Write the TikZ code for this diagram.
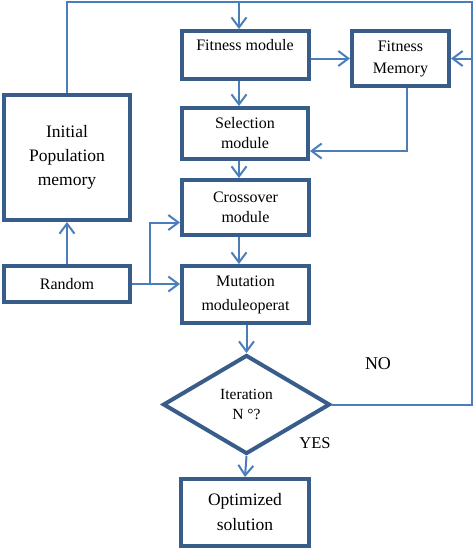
\documentclass[tikz,border=0pt]{standalone}
\usepackage{fontspec}
\setmainfont{Liberation Serif}
\usetikzlibrary{arrows.meta, shapes.geometric}

\definecolor{boxblue}{RGB}{56,93,138}
\definecolor{lineblue}{RGB}{74,126,187}

\begin{document}
\begin{tikzpicture}[x=1pt, y=-1pt,
    block/.style={draw=boxblue, line width=4pt, align=center, inner sep=2pt, font=\fontsize{16}{20}\selectfont},
    link/.style={draw=lineblue, line width=2pt},
    arr/.style={link, -{Straight Barb[length=10pt, width=15pt]}}]
    \useasboundingbox (0,0) rectangle (474,550);
    \coordinate (col) at (239,0);  % main arrow column
    \coordinate (fork) at (150,0);
    \coordinate (tr) at (472,2);   % top right corner of the loop
    \node[block, minimum width=127pt, minimum height=48pt] (fitmod) at (245,55) {Fitness module\\\mbox{}};
    \node[block, minimum width=97pt, minimum height=55pt, font=\fontsize{16}{22}\selectfont] (fitmem) at (400.5,58.5) {Fitness\\Memory};
    \node[block, minimum width=126pt, minimum height=125pt, font=\fontsize{17.5}{24}\selectfont] (initpop) at (67,157.5) {Initial\\Population\\memory};
    \node[block, minimum width=126pt, minimum height=51pt] (selmod) at (245,133.5) {Selection\\module};
    \node[block, minimum width=127pt, minimum height=55pt] (crossmod) at (245.5,207.5) {Crossover\\module};
    \node[block, minimum width=126pt, minimum height=36pt] (random) at (67,284) {Random};
    \node[block, minimum width=127pt, minimum height=57pt, font=\fontsize{16}{24}\selectfont] (mutmod) at (245.5,294.5) {Mutation\\moduleoperat};
    \node[block, diamond, inner sep=0pt, minimum width=167pt, minimum height=99pt, font=\fontsize{15.5}{20}\selectfont] (dec) at (246.5,404.5) {Iteration\\N °?};
    \node[block, minimum width=128pt, minimum height=67pt, font=\fontsize{17.5}{25}\selectfont] (optsol) at (245,512.5) {Optimized\\solution};
    \node[font=\fontsize{18}{20}\selectfont] (nolbl) at (378,364) {NO};
    \node[font=\fontsize{16.5}{20}\selectfont] (yeslbl) at (315,443) {YES};

    \draw[link] (initpop.north) |- (tr) |- (dec.east);
    \draw[arr] (tr -| col) -- (fitmod.north -| col);
    \draw[arr] (fitmem.east -| tr) -- (fitmem.east);
    \draw[arr] (fitmod.east |- fitmem.west) -- (fitmem.west);
    \draw[arr] (fitmod.south -| col) -- (selmod.north -| col);
    \draw[arr] ([xshift=6pt]fitmem.south) |- ([yshift=-17.5pt]selmod.east);
    \draw[arr] (selmod.south -| col) -- (crossmod.north -| col);
    \draw[arr] (crossmod.south -| col) -- (mutmod.north -| col);
    \draw[arr] (random.north) -- (initpop.south);
    \draw[arr] (random.east) -- (random.east -| mutmod.west);
    \draw[arr] (random.east -| fork) |- ([yshift=-15pt]crossmod.west);
    \draw[arr] (mutmod.south -| dec.north) -- (dec.north);
    \draw[arr] (dec.south) -- (optsol.north);
\end{tikzpicture}
\end{document}
